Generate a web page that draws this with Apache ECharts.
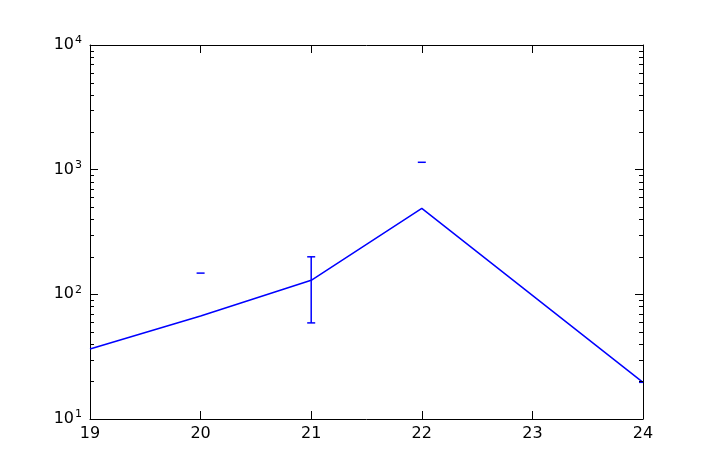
<!DOCTYPE html>
<html>
<head>
<meta charset="utf-8">
<script src="https://cdn.jsdelivr.net/npm/echarts@6/dist/echarts.min.js"></script>
<style>
html,body{margin:0;padding:0;background:#fff;}
#chart{width:715px;height:466px;}
</style>
</head>
<body>
<div id="chart"></div>
<script>
// Data
const xValues = [19, 20, 21, 22, 24];
const yValues = [36.4, 67, 129.6, 490, 19.7];
// Error bars: x, lower (0 = non-positive, clipped on log axis), upper
const errX = [20, 21, 22, 24];
const errLow = [0, 59, 0, 19.7];
const errHigh = [148, 200, 1146, 19.7];
// Axis setup
const xMin = 19, xMax = 24, xInterval = 1;
const yMin = 10, yMax = 10000;
const minorMultipliers = [2, 3, 4, 5, 6, 7, 8, 9];
const decades = [10, 100, 1000];

const FONT = 'DejaVu Sans';
const lineColor = '#0000ff';

const minorTicks = [];
decades.forEach(d => minorMultipliers.forEach(m => minorTicks.push([xMin, d * m])));

const lineData = xValues.map((x, i) => [x, yValues[i]]);
const errData = errX.map((x, i) => [x, errLow[i], errHigh[i]]);

const chart = echarts.init(document.getElementById('chart'), null, {renderer: 'canvas'});

const baseX = {
  type: 'value', min: xMin, max: xMax, interval: xInterval,
  axisLine: {show: true, lineStyle: {color: '#000', width: 1}},
  axisTick: {show: true, inside: true, length: 8, lineStyle: {color: '#000', width: 1}},
  splitLine: {show: false}
};
const baseY = {
  type: 'log', logBase: 10, min: yMin, max: yMax,
  axisLine: {show: true, lineStyle: {color: '#000', width: 1}},
  axisTick: {show: true, inside: true, length: 8, lineStyle: {color: '#000', width: 1}},
  splitLine: {show: false},
  minorTick: {show: false}
};

const option = {
  animation: false,
  backgroundColor: '#fff',
  grid: {left: 90, right: 72, top: 45, bottom: 47, containLabel: false},
  xAxis: [
    Object.assign({}, baseX, {
      position: 'bottom',
      axisLabel: {show: true, margin: 7, color: '#000', fontFamily: FONT, fontSize: 16}
    }),
    Object.assign({}, baseX, {position: 'top', axisLabel: {show: false}})
  ],
  yAxis: [
    Object.assign({}, baseY, {
      position: 'left',
      axisLabel: {
        show: true, margin: 8, color: '#000', fontFamily: FONT,
        formatter: v => '{b|10}{s|' + Math.round(Math.log10(v)) + '}',
        rich: {
          b: {fontFamily: FONT, fontSize: 16, color: '#000'},
          s: {fontFamily: FONT, fontSize: 11, color: '#000', padding: [0, 0, 9, 1]}
        }
      }
    }),
    Object.assign({}, baseY, {position: 'right', axisLabel: {show: false}})
  ],
  series: [
    {
      type: 'line',
      data: lineData,
      xAxisIndex: 0, yAxisIndex: 0,
      showSymbol: false,
      symbol: 'none',
      lineStyle: {color: lineColor, width: 1.5},
      clip: true,
      z: 3
    },
    {
      type: 'custom',
      xAxisIndex: 0, yAxisIndex: 0,
      data: errData,
      clip: true,
      z: 4,
      renderItem: function (params, api) {
        const x = api.value(0), lo = api.value(1), hi = api.value(2);
        const hw = 4;
        const children = [];
        const top = api.coord([x, hi]);
        const style = {stroke: lineColor, lineWidth: 1.5};
        if (lo > 0) {
          const bot = api.coord([x, lo]);
          children.push({type: 'line', shape: {x1: top[0], y1: top[1], x2: bot[0], y2: bot[1]}, style: style});
          children.push({type: 'line', shape: {x1: bot[0] - hw, y1: bot[1], x2: bot[0] + hw, y2: bot[1]}, style: style});
        }
        children.push({type: 'line', shape: {x1: top[0] - hw, y1: top[1], x2: top[0] + hw, y2: top[1]}, style: style});
        return {type: 'group', children: children};
      }
    },
    {
      type: 'custom',
      xAxisIndex: 0, yAxisIndex: 0,
      data: minorTicks,
      silent: true,
      clip: false,
      z: 5,
      renderItem: function (params, api) {
        const p = api.coord([api.value(0), api.value(1)]);
        const cs = params.coordSys;
        const y = Math.round(p[1]) + 0.5;
        const st = {stroke: '#000', lineWidth: 1};
        return {type: 'group', children: [
          {type: 'line', shape: {x1: cs.x, y1: y, x2: cs.x + 4, y2: y}, style: st},
          {type: 'line', shape: {x1: cs.x + cs.width - 4, y1: y, x2: cs.x + cs.width, y2: y}, style: st}
        ]};
      }
    }
  ]
};
chart.setOption(option);
</script>
</body>
</html>
